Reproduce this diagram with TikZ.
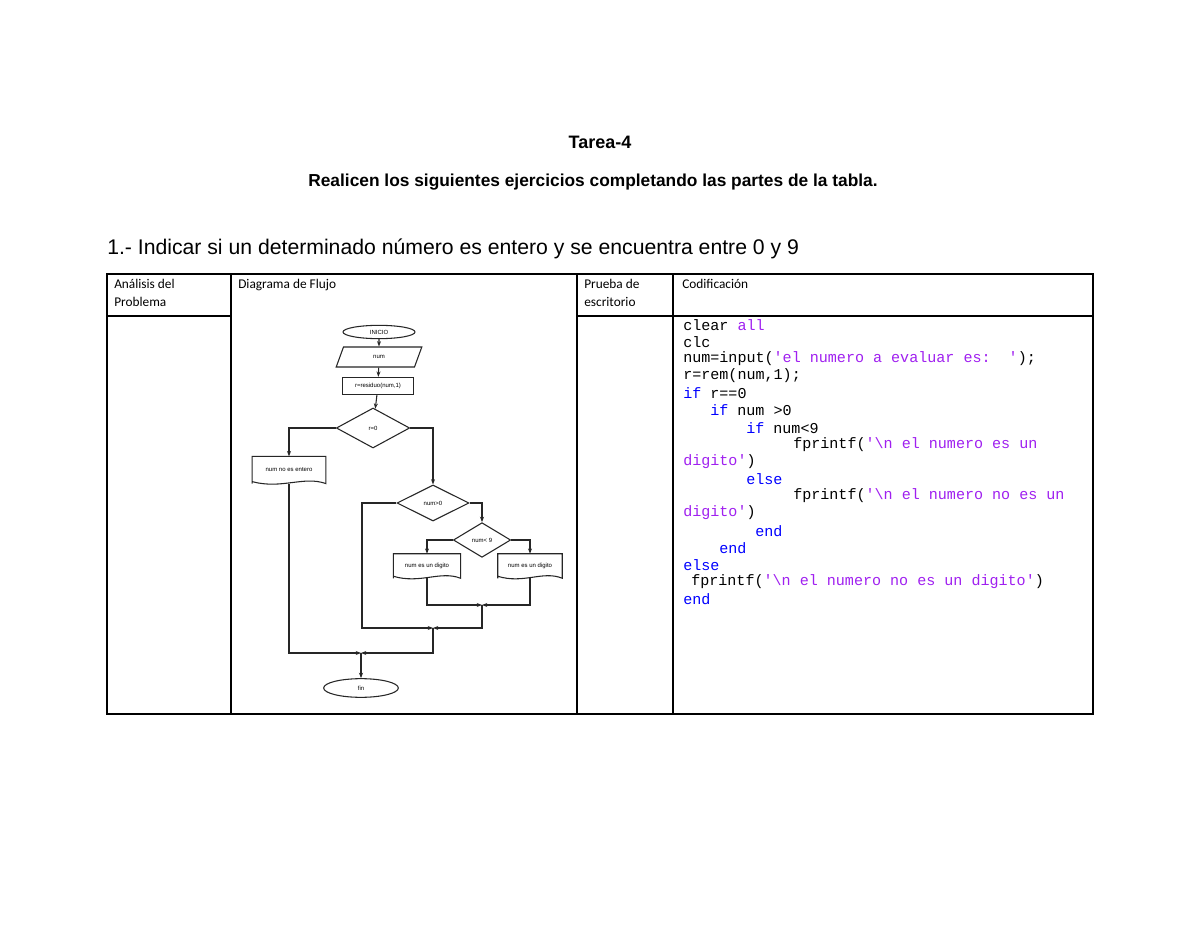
\documentclass[tikz,border=0pt]{standalone}
\usepackage{fontspec}
\setmainfont{Liberation Sans}
\newfontfamily\carl{Carlito}
\newfontfamily\mono{Liberation Mono}
\usetikzlibrary{shapes.geometric,arrows.meta,calc}
\definecolor{kw}{RGB}{0,0,255}
\definecolor{st}{RGB}{160,32,240}
\newcommand{\docshape}[1]{\draw[fc] (#1.south west) -- (#1.north west) -- (#1.north east) -- (#1.south east) .. controls ($(#1.south east)!0.3!(#1.south west)+(0,-8)$) and ($(#1.south east)!0.6!(#1.south west)+(0,6)$) .. ($(#1.south west)+(0,-2)$) -- cycle;}
\begin{document}
\begin{tikzpicture}[x=0.75pt,y=-0.75pt,
  fc/.style={draw=black!85,line width=0.8pt},
  ft/.style={font=\fontsize{4.5}{5}\selectfont},
  arr/.style={fc,-{Stealth[length=4pt,width=3pt]}},
  code/.style={anchor=west,inner sep=0,font=\mono\fontsize{11.3}{12}\selectfont},
  hdr/.style={anchor=north west,align=left,inner sep=0,font=\carl\fontsize{10}{13.5}\selectfont}]
\useasboundingbox (0,0) rectangle (1200,927);
\fill[white] (0,0) rectangle (1200,927);
\node[font=\bfseries\fontsize{13.5}{15}\selectfont] (title) at (600,142) {Tarea-4};
\node[font=\bfseries\fontsize{13}{15}\selectfont] (sub) at (593,182) {Realicen los siguientes ejercicios completando las partes de la tabla.};
\node[anchor=west,inner sep=0,font=\fontsize{15.9}{18}\selectfont] (q) at (107,249) {1.- Indicar si un determinado número es entero y se encuentra entre 0 y 9};
% table
\draw[line width=0.8pt] (107,274) rectangle (1093,714);
\draw[line width=0.8pt] (231,274) -- (231,714) (577,274) -- (577,714) (673,274) -- (673,714);
\draw[line width=0.8pt] (107,316) -- (231,316) (577,316) -- (1093,316);
\node[hdr] (h1) at (114,279) {Análisis del\\Problema};
\node[hdr] (h2) at (238,279) {Diagrama de Flujo};
\node[hdr] (h3) at (584,279) {Prueba de\\escritorio};
\node[hdr] (h4) at (682,279) {Codificación};
% code
\node[code] (c1) at (683,325) {clear \textcolor{st}{all}};
\node[code] (c2) at (683,342) {clc};
\node[code] (c3) at (683,359) {num=input(\textcolor{st}{'el numero a evaluar es:\ \ '});};
\node[code] (c4) at (683,376) {r=rem(num,1);};
\node[code] (c5) at (683,393) {\textcolor{kw}{if} r==0};
\node[code] (c6) at (710,410) {\textcolor{kw}{if} num >0};
\node[code] (c7) at (746,428) {\textcolor{kw}{if} num<9};
\node[code] (c8) at (793,445) {fprintf(\textcolor{st}{'\textbackslash n el numero es un}};
\node[code] (c9) at (683,462) {\textcolor{st}{digito'})};
\node[code] (c10) at (746,479) {\textcolor{kw}{else}};
\node[code] (c11) at (793,496) {fprintf(\textcolor{st}{'\textbackslash n el numero no es un}};
\node[code] (c12) at (683,513) {\textcolor{st}{digito'})};
\node[code] (c13) at (755,531) {\textcolor{kw}{end}};
\node[code] (c14) at (719,548) {\textcolor{kw}{end}};
\node[code] (c15) at (683,565) {\textcolor{kw}{else}};
\node[code] (c16) at (691,582) {fprintf(\textcolor{st}{'\textbackslash n el numero no es un digito'})};
\node[code] (c17) at (683,599) {\textcolor{kw}{end}};
% flowchart
\node[fc,ft,ellipse,minimum width=54pt,minimum height=10pt,inner sep=0] (ini) at (379,332) {INICIO};
\node[fc,ft,trapezium,trapezium left angle=70,trapezium right angle=110,minimum width=54pt,minimum height=15pt,inner sep=0] (num) at (379,357) {num};
\node[fc,ft,rectangle,minimum width=53pt,minimum height=13pt,inner sep=0] (res) at (378,386) {r=residuo(num,1)};
\node[fc,ft,diamond,aspect=1.8,minimum width=55pt,minimum height=30pt,inner sep=0] (d0) at (373,428) {r=0};
\node[ft,minimum width=55pt,minimum height=20pt,inner sep=0] (ne) at (289,470) {num no es entero};
\docshape{ne}
\node[fc,ft,diamond,aspect=2,minimum width=54pt,minimum height=27pt,inner sep=0] (d1) at (433,503) {num>0};
\node[fc,ft,diamond,aspect=1.6,minimum width=43pt,minimum height=26pt,inner sep=0] (d2) at (482,540) {num< 9};
\node[ft,minimum width=50pt,minimum height=18pt,inner sep=0] (dg1) at (427,566) {num es un digito};
\docshape{dg1}
\node[ft,minimum width=48pt,minimum height=18pt,inner sep=0] (dg2) at (530,566) {num es un digito};
\docshape{dg2}
\node[fc,ft,ellipse,minimum width=56pt,minimum height=14pt,inner sep=0] (fin) at (361,688) {fin};
\coordinate (j1) at (482,605);
\coordinate (j2) at (433,628);
\coordinate (j3) at (361,653);
\draw[arr] (ini) -- (num);
\draw[arr] (num) -- (res);
\draw[arr] (res) -- (d0);
\draw[arr] (d0.west) -| (ne.north);
\draw[arr] (d0.east) -| (d1.north);
\draw[arr] (d1.east) -| (d2.north);
\draw[arr] (d2.west) -| (dg1.north);
\draw[arr] (d2.east) -| (dg2.north);
\draw[arr] (dg1.south) |- (j1);
\draw[arr] (dg2.south) |- (j1);
\draw[arr] (j1) |- (j2);
\draw[arr] (d1.west) -| (362,628) -- (j2);
\draw[arr] (j2) |- (j3);
\draw[arr] (ne.south) |- (j3);
\draw[arr] (j3) -- (fin);
\end{tikzpicture}
\end{document}
